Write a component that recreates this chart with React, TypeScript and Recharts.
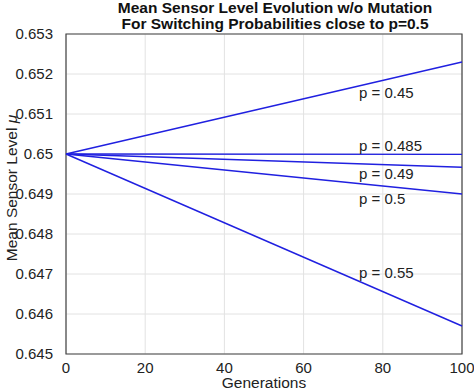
import { LineChart, Line, XAxis, YAxis, CartesianGrid, ReferenceArea, ReferenceDot } from "recharts";

const generations = [0, 100];
const p045 = [0.65, 0.6523];
const p0485 = [0.65, 0.64999];
const p049 = [0.65, 0.64967];
const p05 = [0.65, 0.649];
const p055 = [0.65, 0.6457];

const xTicks = [0, 20, 40, 60, 80, 100];
const yTicks = [0.645, 0.646, 0.647, 0.648, 0.649, 0.65, 0.651, 0.652, 0.653];

const labelNames = ["p = 0.45", "p = 0.485", "p = 0.49", "p = 0.5", "p = 0.55"];
const labelX = 74;
const labelY = [0.65155, 0.65022, 0.64952, 0.6489, 0.64705];

const data = generations.map((g, i) => ({
  gen: g,
  a: p045[i],
  b: p0485[i],
  c: p049[i],
  d: p05[i],
  e: p055[i],
}));

const FONT = "'Liberation Sans', Arial, sans-serif";
const BLUE = "#2020e0";

function YLabel(props: any) {
  const vb = props.viewBox || {};
  const cx = 11;
  const cy = (vb.y ?? 34) + (vb.height ?? 320) / 2 - 6;
  return (
    <text
      x={cx}
      y={cy}
      transform={`rotate(-90, ${cx}, ${cy})`}
      textAnchor="middle"
      dominantBaseline="central"
      fontSize={15.5}
      fill="#222"
      fontFamily={FONT}
    >
      Mean Sensor Level <tspan fontStyle="italic">μ</tspan>
    </text>
  );
}

function XLabel(props: any) {
  const vb = props.viewBox || {};
  const cx = (vb.x ?? 66) + (vb.width ?? 396) / 2;
  return (
    <text x={cx} y={382} textAnchor="middle" dominantBaseline="central" fontSize={15.5} fill="#222" fontFamily={FONT}>
      Generations
    </text>
  );
}

export default function App() {
  return (
    <div style={{ position: "absolute", left: 0, top: 0, width: 474, height: 391, background: "#fff", fontFamily: FONT }}>
      <div
        style={{
          position: "absolute",
          left: 0,
          top: 0,
          width: 474,
          paddingLeft: 76,
          boxSizing: "border-box",
          textAlign: "center",
          fontWeight: "bold",
          fontSize: 15.5,
          lineHeight: "16px",
          color: "#111",
          zIndex: 2,
          whiteSpace: "nowrap",
        }}
      >
        <div>Mean Sensor Level Evolution w/o Mutation</div>
        <div>For Switching Probabilities close to p=0.5</div>
      </div>
      <LineChart width={474} height={391} data={data} margin={{ top: 34, right: 12, bottom: 7, left: 0 }}>
        <CartesianGrid stroke="#e2e2e2" strokeWidth={1} />
        <XAxis
          dataKey="gen"
          type="number"
          domain={[0, 100]}
          ticks={xTicks}
          tickLine={false}
          axisLine={false}
          tickMargin={2}
          height={30}
          tick={{ fontSize: 15, fill: "#222", fontFamily: FONT }}
          label={<XLabel />}
        />
        <YAxis
          type="number"
          domain={[0.645, 0.653]}
          ticks={yTicks}
          tickFormatter={(v: number) => String(Number(v.toFixed(3)))}
          tickLine={false}
          axisLine={false}
          tickMargin={7}
          width={66}
          tick={{ fontSize: 15, fill: "#222", fontFamily: FONT }}
          label={<YLabel />}
        />
        <ReferenceArea x1={0} x2={100} y1={0.645} y2={0.653} fill="none" stroke="#444" strokeWidth={1.2} ifOverflow="visible" />
        <Line dataKey="a" stroke={BLUE} strokeWidth={1.4} dot={false} isAnimationActive={false} />
        <Line dataKey="b" stroke={BLUE} strokeWidth={1.4} dot={false} isAnimationActive={false} />
        <Line dataKey="c" stroke={BLUE} strokeWidth={1.4} dot={false} isAnimationActive={false} />
        <Line dataKey="d" stroke={BLUE} strokeWidth={1.4} dot={false} isAnimationActive={false} />
        <Line dataKey="e" stroke={BLUE} strokeWidth={1.4} dot={false} isAnimationActive={false} />
        {labelNames.map((name, i) => (
          <ReferenceDot
            key={name}
            x={labelX}
            y={labelY[i]}
            r={0}
            ifOverflow="visible"
            shape={(p: any) => (
              <text x={p.cx} y={p.cy} dominantBaseline="central" fontSize={15} fill="#222" fontFamily={FONT}>
                {name}
              </text>
            )}
          />
        ))}
      </LineChart>
    </div>
  );
}
